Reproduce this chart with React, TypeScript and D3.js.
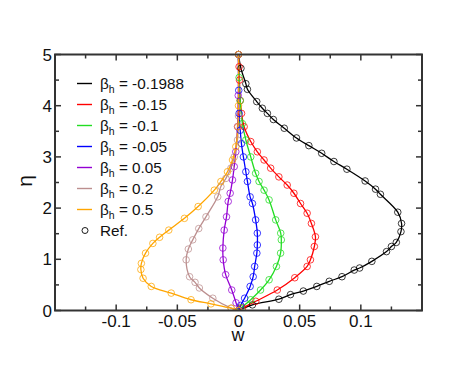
import React from 'react';
import * as d3 from 'd3';

// profiles: [eta, w]
const black: [number, number][] = [[0,0],[0.11,0.0114],[0.22,0.033],[0.31,0.0425],[0.38,0.053],[0.47,0.064],[0.57,0.0742],[0.66,0.0846],[0.79,0.0946],[0.83,0.099],[0.96,0.109],[1.15,0.121],[1.25,0.125],[1.33,0.129],[1.54,0.1328],[1.7,0.1333],[1.92,0.1302],[2.27,0.116],[2.37,0.112],[2.53,0.1035],[2.76,0.0886],[2.91,0.078],[3.07,0.068],[3.22,0.0575],[3.37,0.0474],[3.56,0.0374],[3.73,0.0285],[3.85,0.0236],[3.95,0.0195],[4.08,0.0149],[4.32,0.0073],[4.43,0.006],[4.73,0.002],[5,0]];
const red: [number, number][] = [[0,0],[0.05,0.0033],[0.18,0.0141],[0.4,0.0317],[0.64,0.046],[0.86,0.0561],[0.99,0.0588],[1.25,0.062],[1.44,0.0629],[1.7,0.0596],[1.9,0.0561],[2.09,0.0507],[2.29,0.0453],[2.45,0.0398],[2.61,0.033],[2.78,0.0263],[2.94,0.0209],[3.1,0.0154],[3.3,0.01],[3.59,0.0046],[3.85,0.0025],[4.1,0.0014],[4.5,0.0008],[4.76,0.0005],[5,0]];
const green: [number, number][] = [[0,0],[0.05,0.002],[0.21,0.01],[0.4,0.018],[0.6,0.025],[0.86,0.031],[1.12,0.0344],[1.38,0.035],[1.51,0.0345],[1.77,0.0304],[2.16,0.025],[2.35,0.0209],[2.52,0.0168],[2.68,0.014],[3.0,0.01],[3.33,0.006],[3.65,0.0032],[4.1,0.0014],[4.55,0.0005],[5,0]];
const blue: [number, number][] = [[0,0],[0.1,0.0018],[0.24,0.005],[0.47,0.0095],[0.66,0.012],[0.86,0.0132],[1.12,0.015],[1.28,0.0154],[1.51,0.0154],[1.77,0.014],[2.09,0.0114],[2.22,0.0095],[2.52,0.0073],[2.71,0.006],[3.0,0.004],[3.26,0.0024],[3.52,0.0014],[3.85,0.0005],[4.3,0.0002],[5,0]];
const purple: [number, number][] = [[0,0],[0.15,-0.002],[0.4,-0.0055],[0.7,-0.0105],[0.99,-0.0125],[1.22,-0.0128],[1.57,-0.0117],[1.83,-0.0098],[2.13,-0.0084],[2.29,-0.0068],[2.55,-0.0049],[2.81,-0.0035],[3.1,-0.0022],[3.59,-0.0008],[4.2,-0.0002],[5,0]];
const brown: [number, number][] = [[0,0],[0.045,-0.006],[0.24,-0.021],[0.44,-0.032],[0.55,-0.0355],[0.66,-0.04],[0.99,-0.0428],[1.2,-0.041],[1.38,-0.0374],[1.6,-0.0325],[1.83,-0.0266],[2.22,-0.017],[2.42,-0.0144],[2.58,-0.0103],[2.78,-0.0062],[3.0,-0.0035],[3.33,-0.0008],[3.8,0],[5,0]];
const orange: [number, number][] = [[0,0],[0.045,-0.006],[0.13,-0.0225],[0.21,-0.0388],[0.34,-0.055],[0.47,-0.0713],[0.63,-0.078],[0.8,-0.0798],[0.92,-0.0794],[1.12,-0.076],[1.31,-0.07],[1.43,-0.0645],[1.57,-0.057],[1.8,-0.0442],[2.03,-0.033],[2.35,-0.0198],[2.52,-0.0144],[2.71,-0.009],[2.94,-0.0049],[3.2,-0.0022],[3.59,-0.0005],[4.0,0],[5,0]];

const seriesData = [black, red, green, blue, purple, brown, orange];
const seriesLabels = ['-0.1988', '-0.15', '-0.1', '-0.05', '0.05', '0.2', '0.5'];
const seriesColors = ['#000000', '#ff0000', '#22dd22', '#0000ff', '#9400d3', '#bc8f8f', '#ffa500'];

const xTicks = [-0.1, -0.05, 0, 0.05, 0.1];
const xTickLabels = ['-0.1', '-0.05', '0', '0.05', '0.1'];
const yTicks = [0, 1, 2, 3, 4, 5];

const W = 474, H = 366;
const m = { left: 55, right: 422, top: 54.5, bottom: 310.5 };

export default function App() {
  const x = d3.scaleLinear().domain([-0.15, 0.15]).range([m.left, m.right]);
  const y = d3.scaleLinear().domain([0, 5]).range([m.bottom, m.top]);
  const line = d3.line<[number, number]>()
    .x(d => x(d[1]))
    .y(d => y(d[0]))
    .curve(d3.curveCatmullRom.alpha(0.5));

  const xMinor = d3.range(-0.15, 0.1501, 0.025);
  const yMinor = d3.range(0, 5.01, 0.5);
  const font = 'Liberation Sans, Arial, Helvetica, sans-serif';
  const frame = '#333';

  return (
    <svg width={W} height={H} style={{ position: 'fixed', left: 0, top: 0, background: '#fff' }} fontFamily={font}>
      <defs>
        <clipPath id="plot">
          <rect x={m.left} y={m.top - 6} width={m.right - m.left} height={m.bottom - m.top + 6} />
        </clipPath>
      </defs>
      {/* ticks */}
      {xMinor.map((t, i) => {
        const major = Math.abs(Math.round(t / 0.05) * 0.05 - t) < 1e-6;
        const len = major ? 6 : 4;
        return (
          <g key={'xt' + i} stroke={frame} strokeWidth={1.5}>
            <line x1={x(t)} x2={x(t)} y1={m.bottom} y2={m.bottom - len} />
            <line x1={x(t)} x2={x(t)} y1={m.top} y2={m.top + len} />
          </g>
        );
      })}
      {yMinor.map((t, i) => {
        const major = Math.abs(Math.round(t) - t) < 1e-6;
        const len = major ? 6 : 4;
        return (
          <g key={'yt' + i} stroke={frame} strokeWidth={1.5}>
            <line x1={m.left} x2={m.left + len} y1={y(t)} y2={y(t)} />
            <line x1={m.right} x2={m.right - len} y1={y(t)} y2={y(t)} />
          </g>
        );
      })}
      {/* curves */}
      <g clipPath="url(#plot)">
        {seriesData.map((s, i) => (
          <path key={'l' + i} d={line(s) || ''} fill="none" stroke={seriesColors[i]} strokeWidth={1.3} />
        ))}
        {seriesData.map((s, i) => (
          <g key={'p' + i}>
            {s.map((d, j) => (
              <circle key={j} cx={x(d[1])} cy={y(d[0])} r={3.3} fill="none" stroke={seriesColors[i]} strokeWidth={0.9} opacity={0.85} />
            ))}
          </g>
        ))}
      </g>
      <rect x={m.left} y={m.top} width={m.right - m.left} height={m.bottom - m.top} fill="none" stroke={frame} strokeWidth={2} />
      {/* tick labels */}
      {xTicks.map((t, i) => (
        <text key={'xl' + i} x={x(t)} y={327} textAnchor="middle" fontSize={17} fill="#111">{xTickLabels[i]}</text>
      ))}
      {yTicks.map(t => (
        <text key={'yl' + t} x={52} y={y(t) + 6} textAnchor="end" fontSize={17} fill="#111">{t}</text>
      ))}
      <text x={238} y={341} textAnchor="middle" fontSize={18} fill="#111">w</text>
      <text transform="translate(32,181) rotate(-90)" textAnchor="middle" fontSize={21} fill="#111">η</text>
      {/* legend */}
      {seriesLabels.map((lab, i) => {
        const ly = 83.5 + i * 21;
        return (
          <g key={'lg' + i}>
            <line x1={77} x2={92} y1={ly} y2={ly} stroke={seriesColors[i]} strokeWidth={1.4} />
            <text x={100} y={ly + 5} fontSize={15.3} fill="#111">
              β<tspan fontSize={10.5} dy={4}>h</tspan><tspan dy={-4}>{' = ' + lab}</tspan>
            </text>
          </g>
        );
      })}
      <circle cx={85} cy={83.5 + 7 * 21} r={3} fill="none" stroke="#000" strokeWidth={0.9} />
      <text x={100} y={83.5 + 7 * 21 + 5} fontSize={15.3} fill="#111">Ref.</text>
    </svg>
  );
}
